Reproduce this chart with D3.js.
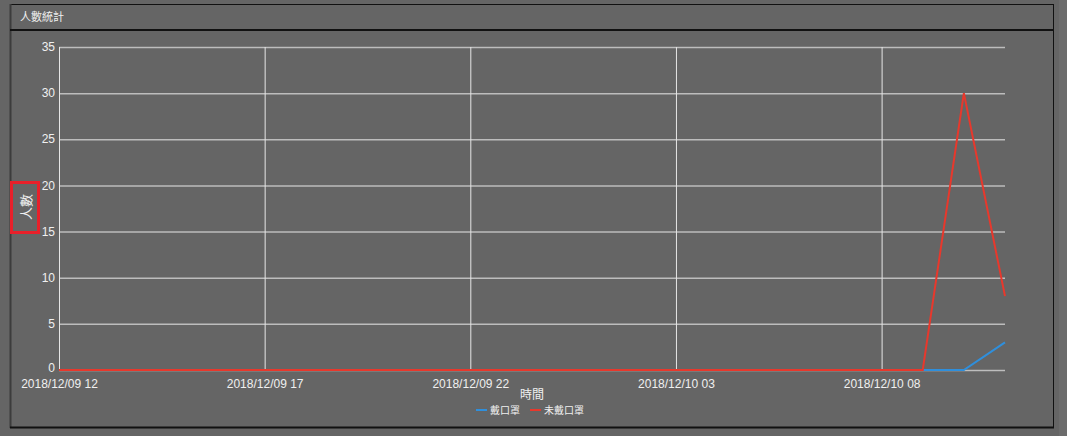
<!DOCTYPE html>
<html>
<head>
<meta charset="utf-8">
<script src="https://cdn.jsdelivr.net/npm/d3@7"></script>
<style>
  html, body { margin: 0; padding: 0; background: #656565; overflow: hidden; }
  text { font-family: "Liberation Sans", "Noto Sans CJK TC", sans-serif; fill: #f0f0f0; }
</style>
</head>
<body>
<svg id="chart"></svg>
<script>
// hourly categories
const times = [
  "2018/12/09 12", "2018/12/09 13", "2018/12/09 14", "2018/12/09 15", "2018/12/09 16",
  "2018/12/09 17", "2018/12/09 18", "2018/12/09 19", "2018/12/09 20", "2018/12/09 21",
  "2018/12/09 22", "2018/12/09 23", "2018/12/10 00", "2018/12/10 01", "2018/12/10 02",
  "2018/12/10 03", "2018/12/10 04", "2018/12/10 05", "2018/12/10 06", "2018/12/10 07",
  "2018/12/10 08", "2018/12/10 09", "2018/12/10 10", "2018/12/10 11"
];
const masked   = [0,0,0,0,0, 0,0,0,0,0, 0,0,0,0,0, 0,0,0,0,0, 0,0,0,3];
const unmasked = [0,0,0,0,0, 0,0,0,0,0, 0,0,0,0,0, 0,0,0,0,0, 0,0,30,8];
const xTickLabels = ["2018/12/09 12", "2018/12/09 17", "2018/12/09 22", "2018/12/10 03", "2018/12/10 08"];
const yTicks = [0, 5, 10, 15, 20, 25, 30, 35];
const seriesNames = ["戴口罩", "未戴口罩"];
const seriesColors = ["#2f8fdc", "#e8382c"];

const width = 1067, height = 436;
const svg = d3.select("#chart").attr("width", width).attr("height", height);

const parse = d3.timeParse("%Y/%m/%d %H");

// panel frame
svg.append("rect").attr("x", 1059).attr("y", 0).attr("width", 8).attr("height", height).attr("fill", "#6c6c6c");
svg.append("rect")
    .attr("x", 10.5).attr("y", 4.5).attr("width", 1043).attr("height", 423)
    .attr("fill", "#656565").attr("stroke", "#111").attr("stroke-width", 1);
svg.append("line").attr("x1", 10.5).attr("x2", 10.5).attr("y1", 4).attr("y2", 428)
    .attr("stroke", "#3c3c3c").attr("stroke-width", 2);
svg.append("line").attr("x1", 10).attr("x2", 1054).attr("y1", 427.5).attr("y2", 427.5)
    .attr("stroke", "#111").attr("stroke-width", 2);
svg.append("line").attr("x1", 10).attr("x2", 1054).attr("y1", 30).attr("y2", 30)
    .attr("stroke", "#111").attr("stroke-width", 2);
svg.append("text").attr("x", 20).attr("y", 21).attr("font-size", 11).text("人數統計");

const margin = { left: 59, right: 1005, top: 47, bottom: 370 };

const x = d3.scaleTime()
    .domain([parse(times[0]), parse(times[times.length - 1])])
    .range([margin.left, margin.right]);
const y = d3.scaleLinear()
    .domain([0, 35])
    .range([margin.bottom, margin.top]);

// horizontal grid + y labels
const yAxis = svg.append("g")
    .attr("transform", `translate(${margin.left},0)`)
    .call(d3.axisLeft(y).tickValues(yTicks).tickSize(-(margin.right - margin.left)).tickPadding(4));
yAxis.select(".domain").remove();
yAxis.selectAll(".tick line").attr("stroke", "#bdbdbd").attr("stroke-width", 1.5);
yAxis.selectAll(".tick text").attr("font-size", 12).attr("fill", "#f0f0f0")
    .attr("font-family", "Liberation Sans, sans-serif")
    .attr("dy", d => d === 0 ? "0.1em" : "0.3em");

// vertical grid + x labels
const xAxis = svg.append("g")
    .attr("transform", `translate(0,${margin.bottom})`)
    .call(d3.axisBottom(x)
        .tickValues(xTickLabels.map(parse))
        .tickFormat(d3.timeFormat("%Y/%m/%d %H"))
        .tickSize(-(margin.bottom - margin.top))
        .tickPadding(9));
xAxis.select(".domain").remove();
xAxis.selectAll(".tick line").attr("stroke", "#e6e6e6").attr("stroke-width", 1);
xAxis.selectAll(".tick text").attr("font-size", 12).attr("fill", "#f0f0f0")
    .attr("font-family", "Liberation Sans, sans-serif");

// lines
const line = d3.line()
    .x((d, i) => x(parse(times[i])))
    .y(d => y(d));

[masked, unmasked].forEach((vals, k) => {
  svg.append("path")
      .datum(vals)
      .attr("fill", "none")
      .attr("stroke", seriesColors[k])
      .attr("stroke-width", 2)
      .attr("d", line);
});

// axis titles
svg.append("text")
    .attr("x", (margin.left + margin.right) / 2)
    .attr("y", 399)
    .attr("text-anchor", "middle")
    .attr("font-size", 12)
    .text("時間");

svg.append("text")
    .attr("transform", "translate(31,207) rotate(-90)")
    .attr("text-anchor", "middle")
    .attr("font-size", 13)
    .text("人數");
svg.append("rect")
    .attr("x", 11.5).attr("y", 182.5).attr("width", 27).attr("height", 50)
    .attr("fill", "none").attr("stroke", "#e8202a").attr("stroke-width", 3);

// legend
const legendX = [476, 530];
seriesNames.forEach((name, k) => {
  svg.append("line")
      .attr("x1", legendX[k]).attr("x2", legendX[k] + 11)
      .attr("y1", 410).attr("y2", 410)
      .attr("stroke", seriesColors[k]).attr("stroke-width", 2);
  svg.append("text")
      .attr("x", legendX[k] + 14)
      .attr("y", 414)
      .attr("font-size", 10)
      .text(name);
});
</script>
</body>
</html>
